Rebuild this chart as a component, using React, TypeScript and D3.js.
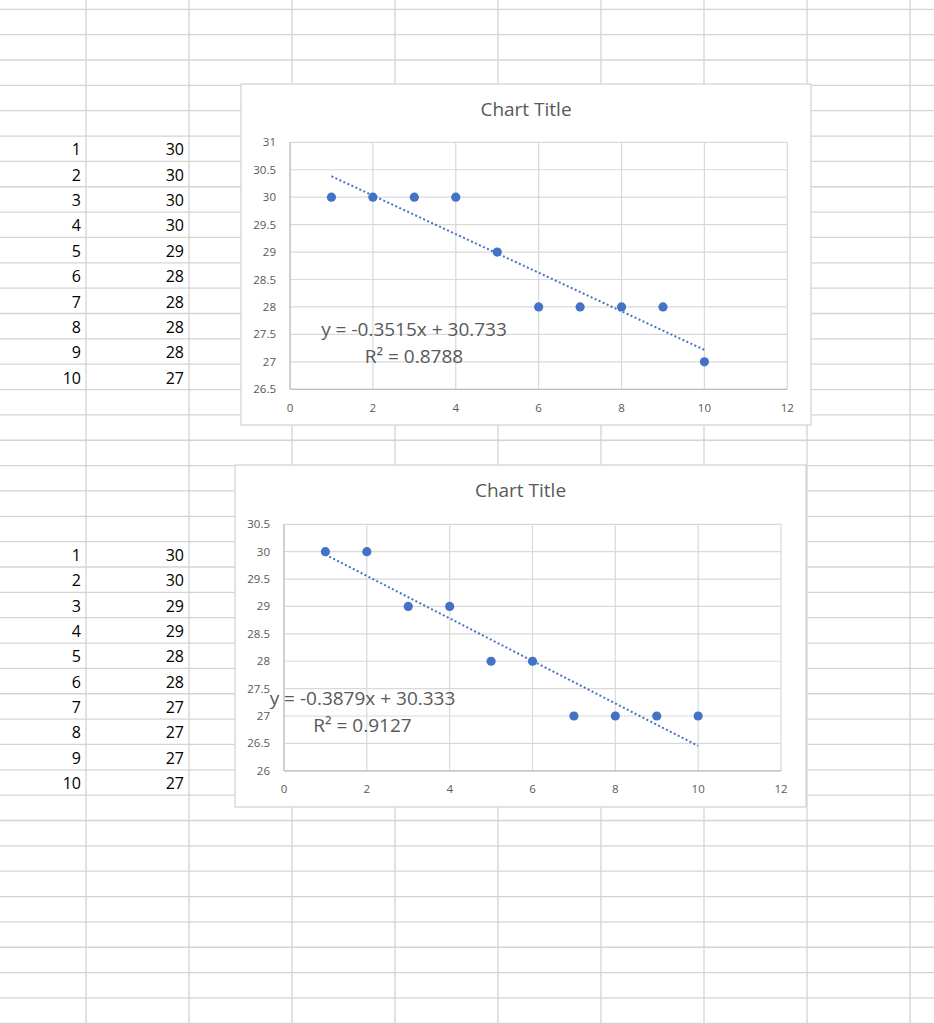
import { useEffect, useRef } from 'react';
import * as d3 from 'd3';

// spreadsheet values
const seriesOneX = [1, 2, 3, 4, 5, 6, 7, 8, 9, 10];
const seriesOneY = [30, 30, 30, 30, 29, 28, 28, 28, 28, 27];
const seriesTwoX = [1, 2, 3, 4, 5, 6, 7, 8, 9, 10];
const seriesTwoY = [30, 30, 29, 29, 28, 28, 27, 27, 27, 27];

const chartTitles = ['Chart Title', 'Chart Title'];
const xTicks = [0, 2, 4, 6, 8, 10, 12];
const yTicksOne = [26.5, 27, 27.5, 28, 28.5, 29, 29.5, 30, 30.5, 31];
const yTicksTwo = [26, 26.5, 27, 27.5, 28, 28.5, 29, 29.5, 30, 30.5];

const WIDTH = 934;
const HEIGHT = 1024;
const BLUE = '#4472C4';
const GREY_TEXT = '#595959';
const FONT = '"Open Sans", "Liberation Sans", sans-serif';

// sheet grid
const colLeft = 86;
const colWidth = 103;
const rowTop = 9.3;
const rowHeight = 25.35;

const charts = [
  {
    xs: seriesOneX,
    ys: seriesOneY,
    title: chartTitles[0],
    yTicks: yTicksOne,
    firstRow: 5,
    box: { x: 241, y: 84, w: 570, h: 341 },
    plot: { left: 290, right: 787.3, top: 142.3, bottom: 389.3 },
    eq: { dx: 124, dy: 194 },
  },
  {
    xs: seriesTwoX,
    ys: seriesTwoY,
    title: chartTitles[1],
    yTicks: yTicksTwo,
    firstRow: 21,
    box: { x: 235, y: 465, w: 571, h: 342 },
    plot: { left: 284, right: 781, top: 524.3, bottom: 770.8 },
    eq: { dx: 78.5, dy: 181 },
  },
];

function linearFit(xs: number[], ys: number[]) {
  const mx = d3.mean(xs)!;
  const my = d3.mean(ys)!;
  let sxy = 0, sxx = 0, syy = 0;
  xs.forEach((x, i) => {
    sxy += (x - mx) * (ys[i] - my);
    sxx += (x - mx) ** 2;
    syy += (ys[i] - my) ** 2;
  });
  const slope = sxy / sxx;
  const intercept = my - slope * mx;
  const r2 = (sxy * sxy) / (sxx * syy);
  return { slope, intercept, r2 };
}

export default function App() {
  const svgRef = useRef<SVGSVGElement>(null);

  useEffect(() => {
    document.body.style.margin = '0';
    if (!svgRef.current) return;

    const svg = d3.select(svgRef.current);
    svg.selectAll('*').remove();
    svg.attr('viewBox', `0 0 ${WIDTH} ${HEIGHT}`);

    svg.append('rect').attr('width', WIDTH).attr('height', HEIGHT).attr('fill', '#fff');

    // Sheet grid lines
    const grid = svg.append('g').attr('stroke', '#d4d4d4').attr('stroke-width', 1.3);
    d3.range(0, 9).forEach(i => {
      const x = colLeft + i * colWidth;
      grid.append('line').attr('x1', x).attr('x2', x).attr('y1', 0).attr('y2', HEIGHT);
    });
    d3.range(0, 41).forEach(i => {
      const y = rowTop + i * rowHeight;
      grid.append('line').attr('x1', 0).attr('x2', WIDTH).attr('y1', y).attr('y2', y);
    });

    charts.forEach(chart => {
      // Cell values
      const cells = svg.append('g')
        .style('font-family', FONT)
        .style('font-size', '16px')
        .attr('fill', '#000')
        .attr('text-anchor', 'end');

      chart.xs.forEach((x, i) => {
        const baseline = rowTop + (chart.firstRow + i + 1) * rowHeight - 6;
        cells.append('text').attr('x', colLeft - 5).attr('y', baseline).text(x);
        cells.append('text').attr('x', colLeft + colWidth - 5).attr('y', baseline).text(chart.ys[i]);
      });

      // Chart frame
      const { box, plot } = chart;
      svg.append('rect')
        .attr('x', box.x)
        .attr('y', box.y)
        .attr('width', box.w)
        .attr('height', box.h)
        .attr('fill', '#fff')
        .attr('stroke', '#d4d4d4')
        .attr('stroke-width', 1.3);

      svg.append('text')
        .attr('x', box.x + box.w / 2)
        .attr('y', box.y + 32)
        .attr('text-anchor', 'middle')
        .attr('fill', GREY_TEXT)
        .style('font-family', FONT)
        .style('font-size', '19px')
        .text(chart.title);

      const xScale = d3.scaleLinear()
        .domain([xTicks[0], xTicks[xTicks.length - 1]])
        .range([plot.left, plot.right]);
      const yScale = d3.scaleLinear()
        .domain([chart.yTicks[0], chart.yTicks[chart.yTicks.length - 1]])
        .range([plot.bottom, plot.top]);

      // Gridlines
      const g = svg.append('g');
      g.selectAll('.hgrid')
        .data(chart.yTicks)
        .enter()
        .append('line')
        .attr('x1', plot.left)
        .attr('x2', plot.right)
        .attr('y1', d => yScale(d))
        .attr('y2', d => yScale(d))
        .attr('stroke', '#d9d9d9')
        .attr('stroke-width', 1.2);

      g.selectAll('.vgrid')
        .data(xTicks)
        .enter()
        .append('line')
        .attr('x1', d => xScale(d))
        .attr('x2', d => xScale(d))
        .attr('y1', plot.top)
        .attr('y2', plot.bottom)
        .attr('stroke', '#d9d9d9')
        .attr('stroke-width', 1.2);

      // Axis lines
      g.append('line')
        .attr('x1', plot.left).attr('x2', plot.right)
        .attr('y1', plot.bottom).attr('y2', plot.bottom)
        .attr('stroke', '#bfbfbf').attr('stroke-width', 1.2);
      g.append('line')
        .attr('x1', plot.left).attr('x2', plot.left)
        .attr('y1', plot.top).attr('y2', plot.bottom)
        .attr('stroke', '#bfbfbf').attr('stroke-width', 1.2);

      // Tick labels
      g.selectAll('.ylab')
        .data(chart.yTicks)
        .enter()
        .append('text')
        .attr('x', plot.left - 14)
        .attr('y', d => yScale(d))
        .attr('dy', '0.35em')
        .attr('text-anchor', 'end')
        .attr('fill', GREY_TEXT)
        .style('font-family', FONT)
        .style('font-size', '11.5px')
        .text(d => `${d}`);

      g.selectAll('.xlab')
        .data(xTicks)
        .enter()
        .append('text')
        .attr('x', d => xScale(d))
        .attr('y', plot.bottom + 22.5)
        .attr('text-anchor', 'middle')
        .attr('fill', GREY_TEXT)
        .style('font-family', FONT)
        .style('font-size', '11.5px')
        .text(d => `${d}`);

      // Trendline
      const fit = linearFit(chart.xs, chart.ys);
      const xExtent = d3.extent(chart.xs) as [number, number];
      const trend = d3.line<number>()
        .x(d => xScale(d))
        .y(d => yScale(fit.slope * d + fit.intercept));

      g.append('path')
        .datum(xExtent)
        .attr('d', trend)
        .attr('fill', 'none')
        .attr('stroke', BLUE)
        .attr('stroke-width', 2)
        .attr('stroke-dasharray', '2,2.4');

      // Points
      g.selectAll('.dot')
        .data(chart.xs)
        .enter()
        .append('circle')
        .attr('cx', d => xScale(d))
        .attr('cy', (d, i) => yScale(chart.ys[i]))
        .attr('r', 4.6)
        .attr('fill', BLUE);

      // Equation label
      const sign = fit.intercept >= 0 ? '+' : '-';
      const eqX = plot.left + chart.eq.dx;
      const eqY = plot.top + chart.eq.dy;
      const eq = g.append('g')
        .attr('text-anchor', 'middle')
        .attr('fill', GREY_TEXT)
        .style('font-family', FONT)
        .style('font-size', '19px');
      eq.append('text')
        .attr('x', eqX)
        .attr('y', eqY)
        .text(`y = ${fit.slope.toFixed(4)}x ${sign} ${Math.abs(fit.intercept).toFixed(3)}`);
      eq.append('text')
        .attr('x', eqX)
        .attr('y', eqY + 27)
        .text(`R² = ${fit.r2.toFixed(4)}`);
    });
  }, []);

  return <svg ref={svgRef} width={WIDTH} height={HEIGHT} style={{ display: 'block' }} />;
}
